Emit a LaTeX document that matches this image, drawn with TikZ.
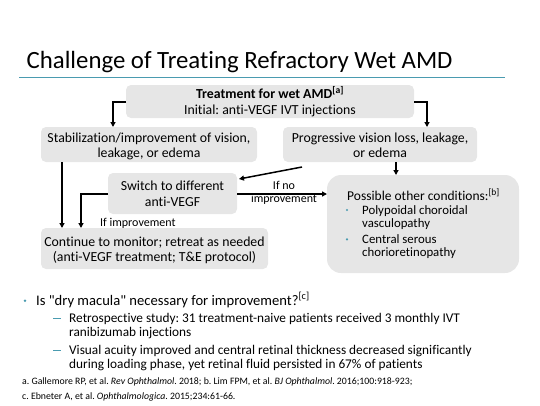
\documentclass[tikz,border=0pt]{standalone}
\usepackage{fontspec}
\setmainfont{Carlito}[Ligatures={NoCommon}]
\usetikzlibrary{arrows.meta}
\definecolor{boxgray}{HTML}{E6E6E6}
\definecolor{teal}{HTML}{4A9BB0}
\frenchspacing
\begin{document}
\begin{tikzpicture}[x=1pt,y=-1pt,
  flowbox/.style={fill=boxgray,rounded corners=5pt},
  bt/.style={font=\fontsize{13.8}{16}\selectfont,inner sep=0pt,anchor=base},
  lt/.style={font=\fontsize{12.8}{14}\selectfont,inner sep=0pt,anchor=base west},
  conn/.style={line width=1.5pt,-{Triangle[length=5pt,width=5pt]}},
  lbl/.style={font=\fontsize{12}{13}\selectfont,inner sep=0pt,anchor=base},
  st/.style={font=\fontsize{13.3}{14}\selectfont,inner sep=0pt,anchor=base west},
  rt/.style={font=\fontsize{9.8}{11}\selectfont,inner sep=0pt,anchor=base west}]
\useasboundingbox (0,0) rectangle (540,405);
% title
\node[inner sep=0pt,anchor=base west,font=\fontsize{24.8}{28}\selectfont] (title) at (26.5,68) {Challenge of Treating Refractory Wet AMD};
\draw[teal,line width=0.9pt] (19,77) -- (505,77);
% boxes
\fill[flowbox] (126,85) rectangle (414,118);
\node[bt] (top1) at (270,98.3) {\textbf{Treatment for wet AMD\textsuperscript{[a]}}};
\node[bt] (top2) at (270,114.3) {Initial: anti-VEGF IVT injections};
\fill[flowbox] (41,127) rectangle (257,162);
\node[bt] (stab1) at (149,142.3) {Stabilization/improvement of vision,};
\node[bt] (stab2) at (149,157.7) {leakage, or edema};
\fill[flowbox] (283,127) rectangle (477,162);
\node[bt] (prog1) at (380,142.3) {Progressive vision loss, leakage,};
\node[bt] (prog2) at (380,157.7) {or edema};
\fill[flowbox] (108,173) rectangle (237,214);
\node[bt] (sw1) at (172.5,190.7) {Switch to different};
\node[bt] (sw2) at (172.5,206) {anti-VEGF};
\fill[flowbox] (41,228) rectangle (268,269);
\node[bt] (cont1) at (154.5,246) {Continue to monitor; retreat as needed};
\node[bt] (cont2) at (154.5,261.5) {(anti-VEGF treatment; T\&E protocol)};
\fill[boxgray,rounded corners=14pt] (327,175) rectangle (519,273);
\node[lt,font=\fontsize{13.5}{15}\selectfont] (poss) at (347,200.7) {Possible other conditions:\textsuperscript{[b]}};
\node[lt] (p1) at (362,214) {Polypoidal choroidal};
\node[lt] (p2) at (362,227.3) {vasculopathy};
\node[lt] (p3) at (362,243.3) {Central serous};
\node[lt] (p4) at (362,256.7) {chorioretinopathy};
\fill[teal] (347,210) circle (1.2pt);
\fill[teal] (347,239.3) circle (1.2pt);
% anchor coordinates
\coordinate (topL) at (126,102);
\coordinate (topR) at (414,102);
\coordinate (cL) at (113,102);
\coordinate (cR) at (427,102);
\coordinate (stabT) at (113,127);
\coordinate (progT) at (427,127);
\coordinate (progB) at (396,162);
\coordinate (possT) at (396,175);
\coordinate (progS) at (302,167);
\coordinate (switchR) at (239,179);
\coordinate (switchE) at (237,194);
\coordinate (possL) at (327,194);
\coordinate (switchW) at (108,194);
\coordinate (cornerW) at (81,194);
\coordinate (contT1) at (81,228);
\coordinate (stabB) at (62,162);
\coordinate (contT2) at (62,228);
% connectors
\draw[conn] (topL) -- (cL) -- (stabT);
\draw[conn] (topR) -- (cR) -- (progT);
\draw[conn] (progB) -- (possT);
\draw[conn] (progS) -- (switchR);
\draw[conn] (switchE) -- (possL);
\draw[conn] (switchW) -- (cornerW) -- (contT1);
\draw[conn] (stabB) -- (contT2);
\node[lbl] (ifno) at (284,189) {If no};
\node[lbl] (impr) at (284,202.3) {improvement};
\node[lbl,anchor=base west] (ifimp) at (100,226) {If improvement};
% bullets
\fill[teal] (25,300.7) circle (1.4pt);
\node[inner sep=0pt,anchor=base west,font=\fontsize{14.6}{16}\selectfont] (q) at (36,305) {Is \textquotedbl dry macula\textquotedbl{} necessary for improvement?\textsuperscript{[c]}};
\draw[teal,line width=0.8pt] (53,318.5) -- (60.5,318.5);
\node[st] (s1a) at (69,322.7) {Retrospective study: 31 treatment-naive patients received 3 monthly IVT};
\node[st] (s1b) at (69,336) {ranibizumab injections};
\draw[teal,line width=0.8pt] (53,350) -- (60.5,350);
\node[st] (s2a) at (69,354) {Visual acuity improved and central retinal thickness decreased significantly};
\node[st] (s2b) at (69,368.3) {during loading phase, yet retinal fluid persisted in 67\% of patients};
\node[rt] (r1) at (22,384) {a. Gallemore RP, et al. \textit{Rev Ophthalmol}. 2018; b. Lim FPM, et al. \textit{BJ Ophthalmol}. 2016;100:918-923;};
\node[rt] (r2) at (22,399) {c. Ebneter A, et al. \textit{Ophthalmologica}. 2015;234:61-66.};
\end{tikzpicture}
\end{document}
